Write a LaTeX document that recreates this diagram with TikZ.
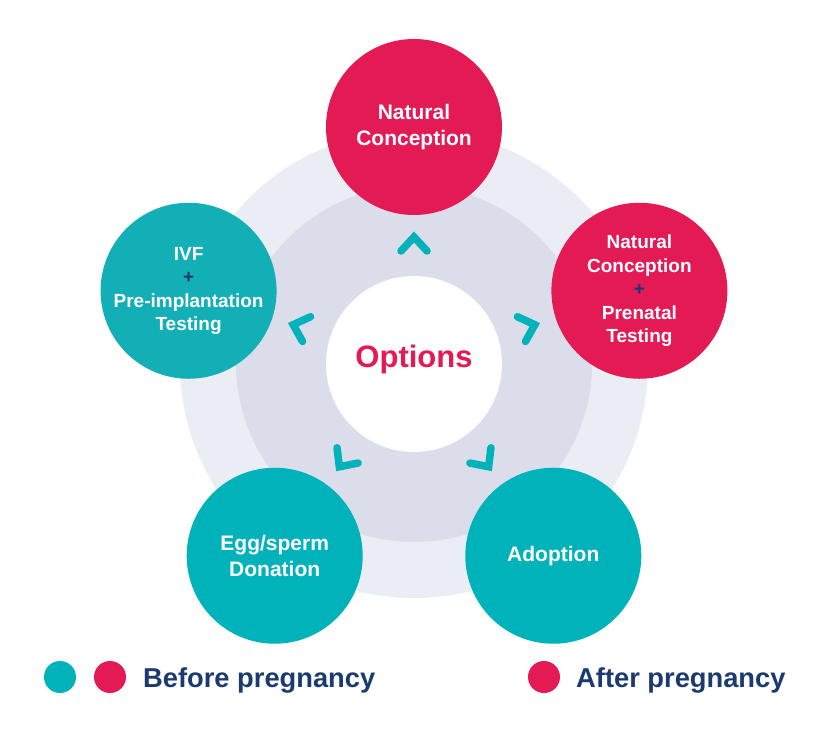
\documentclass[tikz,border=0pt]{standalone}
\usepackage{fontspec}
\usetikzlibrary{calc}
\setmainfont{Liberation Sans}
\definecolor{teal1}{HTML}{00B2B9}
\definecolor{teal2}{HTML}{13AFB6}
\definecolor{crim}{HTML}{E41A55}
\definecolor{navy}{HTML}{1A3A70}
\definecolor{ringout}{HTML}{EBEDF4}
\definecolor{ringmid}{HTML}{DCDDEA}
\tikzset{
  opt/.style={circle, minimum size=176pt, inner sep=0pt, align=center, text=white, font=\bfseries\fontsize{21}{26}\selectfont},
  optsmall/.style={opt, font=\bfseries\fontsize{19}{23.5}\selectfont},
  chev/.style={draw=teal1, line width=7.5pt, line cap=round, line join=miter},
  dot/.style={circle, minimum size=32pt, inner sep=0pt},
  legend/.style={anchor=base west, text=navy, font=\bfseries\fontsize{27.3}{31}\selectfont, inner sep=0pt}
}
\newcommand{\plusmark}{{\color{navy}+}}
\begin{document}
\begin{tikzpicture}[x=1pt,y=1pt]
\useasboundingbox (0,0) rectangle (830,732);
\coordinate (C) at (414,368);
% rings
\fill[ringout] (C) circle (234);
\fill[ringmid] (C) circle (178);
\fill[white] (C) circle (88);
\node[text=crim, font=\bfseries\fontsize{31}{36}\selectfont] (options) at (414,373) {Options};
% chevrons
\foreach \a in {90,18,-54,-126,162}{
  \draw[chev] ($(C)+(\a:113)+(\a+90:13)$) -- ($(C)+(\a:127)$) -- ($(C)+(\a:113)+(\a-90:13)$);
}
% option circles
\node[opt, fill=crim] (nat) at ($(C)+(90:237)$) {Natural\\Conception};
\node[optsmall, fill=crim] (pre) at ($(C)+(18:237)$) {Natural\\Conception\\\plusmark\\Prenatal\\Testing};
\node[opt, fill=teal1] (adopt) at ($(C)+(-54:237)$) {Adoption};
\node[opt, fill=teal1] (egg) at ($(C)+(-126:237)$) {Egg/sperm\\Donation};
\node[optsmall, fill=teal2] (ivf) at ($(C)+(162:237)$) {IVF\\\plusmark\\Pre-implantation\\Testing};
% legend
\node[dot, fill=teal1] (d1) at (60,55) {};
\node[dot, fill=crim] (d2) at (110,55) {};
\node[legend] (l1) at (143,45) {Before pregnancy};
\node[dot, fill=crim] (d3) at (544,55) {};
\node[legend] (l2) at (576,45) {After pregnancy};
\end{tikzpicture}
\end{document}
